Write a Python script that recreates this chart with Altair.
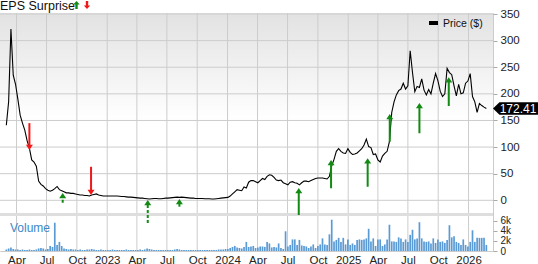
import altair as alt
import pandas as pd

# ---------------- data ----------------
WEEK_START = "2022-03-01"  # first weekly observation

PRICE = [
    141, 185, 322, 235, 218, 190, 160, 145, 132, 112,
    98, 76, 72, 64, 36, 30, 27, 22, 19, 17,
    19, 22, 26, 20, 18, 16, 14, 14, 13, 13,
    12, 11, 10, 10, 9, 9, 8, 10, 11, 12,
    10, 9, 8, 8, 8, 8, 8, 8, 8, 7.5,
    7, 7, 6.5, 6, 6, 5.5, 5, 4.5, 4, 4,
    3.5, 3, 2.5, 3, 3.5, 3.5, 3, 3, 3.5, 4,
    4, 4.5, 5, 5.5, 6, 5.5, 6, 5.5, 5, 4.5,
    4, 4, 3.5, 3.5, 3.5, 3.5, 3, 3, 3, 2.5,
    2.5, 3, 3.5, 4, 4.5, 5, 5.5, 8, 12, 16,
    20, 19, 18, 25, 23, 34, 37, 37, 35, 33,
    37, 41, 39, 45, 48, 47, 43, 38, 37, 38,
    33, 31, 29, 34, 35, 33, 32, 29, 33, 36,
    36, 35, 37, 39, 41, 42, 42, 42, 41, 40,
    45, 65, 77, 92, 97, 92, 89, 88, 97, 90,
    86, 87, 89, 93, 97, 104, 115, 101, 99, 86,
    87, 76, 72, 83, 88, 92, 110, 165, 185, 198,
    206, 209, 220, 209, 215, 281, 240, 204, 214, 212,
    228, 207, 198, 208, 200, 220, 238, 225, 205, 195,
    200, 248, 240, 236, 215, 196, 218, 200, 202, 220,
    224, 238, 195, 185, 165, 182, 178, 175, 172.41,
]

VOLUME_K = [
    0.3, 0.5, 0.7, 0.4, 0.3, 0.3, 0.2, 0.3, 0.2, 0.2,
    0.3, 0.2, 0.2, 0.3, 0.5, 0.6, 0.5, 0.3, 0.4, 1.0,
    0.8, 5.6, 1.2, 1.8, 1.0, 0.5, 0.4, 0.3, 0.4, 0.3,
    0.3, 0.2, 0.3, 0.2, 0.2, 0.3, 0.3, 0.4, 0.3, 0.2,
    0.2, 0.3, 0.2, 0.2, 0.2, 0.2, 0.3, 0.2, 0.2, 0.2,
    0.2, 0.2, 0.3, 0.2, 0.2, 0.2, 0.2, 0.2, 0.3, 0.2,
    0.3, 0.5, 0.4, 0.3, 0.2, 0.2, 0.2, 0.2, 0.2, 0.2,
    0.2, 0.2, 0.2, 0.3, 0.4, 0.3, 0.2, 0.2, 0.2, 0.2,
    0.2, 0.2, 0.2, 0.2, 0.2, 0.2, 0.2, 0.2, 0.2, 0.2,
    0.2, 0.2, 0.3, 0.3, 0.3, 0.4, 0.4, 0.6, 0.8, 1.0,
    0.7, 0.6, 0.5, 0.8, 1.8, 0.8, 0.9, 1.0, 0.6, 0.7,
    0.9, 0.9, 0.8, 1.8, 1.5, 0.7, 0.8, 0.7, 1.5, 0.6,
    0.4, 3.9, 0.9, 1.2, 2.3, 2.3, 1.2, 2.2, 1.1, 1.0,
    0.9, 0.6, 0.9, 1.3, 0.6, 1.0, 1.3, 2.5, 1.3, 1.2,
    3.3, 6.2, 1.9, 2.2, 2.6, 1.8, 2.6, 1.3, 2.3, 1.2,
    1.5, 1.2, 2.2, 2.3, 2.2, 2.3, 2.5, 4.4, 1.9, 2.5,
    1.0, 2.3, 2.3, 1.0, 1.3, 2.3, 5.2, 1.9, 1.9, 1.8,
    2.7, 2.5, 1.8, 2.3, 1.8, 3.2, 4.2, 2.3, 2.5, 5.7,
    2.5, 1.9, 1.8, 1.9, 1.5, 2.5, 1.6, 2.3, 1.8, 1.9,
    1.6, 2.2, 5.1, 2.7, 2.9, 1.8, 1.6, 1.2, 2.3, 1.2,
    0.9, 1.8, 4.1, 1.8, 2.6, 2.6, 2.6, 2.6, 1.2,
]

EARN_DATES = ["2022-05-10", "2022-08-19", "2022-11-13", "2023-05-04", "2023-08-08",
              "2024-08-04", "2024-11-10", "2025-03-01", "2025-05-07", "2025-08-05",
              "2025-11-02"]
EARN_DIR = ["down", "up", "down", "up", "up", "up", "up", "up", "up", "up", "up"]
EARN_STYLE = ["solid", "dashed", "solid", "dashed", "dashed", "solid", "solid",
              "solid", "solid", "solid", "solid"]
EARN_TIP = [94.5, 13.7, 10, 0.6, 2.4, 23, 75.7, 79, 162, 182.8, 231]
EARN_TAIL = [145, -4.5, 63, -42.6, -12, -27.6, 22.5, 25.6, 110, 126, 177]

LAST_PRICE = 172.41
PRICE_TICKS = [0, 50, 100, 150, 200, 250, 300, 350]
VOLUME_TICKS = [0, 2, 4, 6]
QUARTERS = ["2022-04-01", "2022-07-01", "2022-10-01", "2023-01-01", "2023-04-01",
            "2023-07-01", "2023-10-01", "2024-01-01", "2024-04-01", "2024-07-01",
            "2024-10-01", "2025-01-01", "2025-04-01", "2025-07-01", "2025-10-01",
            "2026-01-01"]

# ---------------- tables ----------------
n = min(len(PRICE), len(VOLUME_K))
dates = pd.date_range(WEEK_START, periods=n, freq="7D").strftime("%Y-%m-%d")
df = pd.DataFrame({"date": dates, "price": PRICE[:n], "vol": VOLUME_K[:n]})
earn = pd.DataFrame({"date": EARN_DATES, "dir": EARN_DIR, "style": EARN_STYLE,
                     "tip": EARN_TIP, "tail": EARN_TAIL})
up = earn[earn["dir"] == "up"]
down = earn[earn["dir"] == "down"]
last = pd.DataFrame({"price": [LAST_PRICE], "label": [f"{LAST_PRICE:.2f}"]})
one = pd.DataFrame({"a": [0]})
qdf = pd.DataFrame({"date": QUARTERS})
pgrid = pd.DataFrame({"price": PRICE_TICKS})

FONT = "Liberation Sans"
GREEN = "#138a13"
RED = "#f01818"
GRID = "#cccccc"

W, H = 493, 238
PRICE_RANGE = [187.3, 1.0]
VOL_RANGE = [238, 207.7]

xscale = alt.Scale(type="utc", domain=[alt.DateTime(year=2022, month=2, date=25, utc=True),
                                       alt.DateTime(year=2026, month=3, date=1, utc=True)])
xaxis = alt.Axis(
    values=[alt.DateTime(year=int(q[:4]), month=int(q[5:7]), date=1, utc=True) for q in QUARTERS],
    labelExpr="utcFormat(datum.value, '%m') == '01' ? utcFormat(datum.value, '%Y') : utcFormat(datum.value, '%b')",
    grid=False, ticks=False, domain=False, labelPadding=3,
    labelFontSize=11.5, labelFont=FONT, labelColor="#222", labelFlush=False, title=None,
)
X = alt.X("date:T", scale=xscale, axis=xaxis)

pscale = alt.Scale(domain=[0, 350], range=PRICE_RANGE, zero=False, nice=False)
paxis = alt.Axis(orient="right", values=PRICE_TICKS, grid=False, domain=False,
                 tickSize=4, tickColor="#aaaaaa", labelPadding=3, labelFontSize=11.5,
                 labelFont=FONT, labelColor="#222", labelFlush=False, labelOverlap=False,
                 title=None)


def PY(field):
    return alt.Y(field, type="quantitative", scale=pscale, axis=paxis)


gradient = alt.Gradient(gradient="linear",
                        stops=[alt.GradientStop(color="#e2e2e2", offset=0),
                               alt.GradientStop(color="#ffffff", offset=0.45),
                               alt.GradientStop(color="#ffffff", offset=1)],
                        x1=0, x2=0, y1=0, y2=1)
bg = alt.Chart(one).mark_rect(color=gradient).encode(
    x=alt.value(0), x2=alt.value(W), y=alt.value(0), y2=alt.value(H))

vgrid = alt.Chart(qdf).mark_rule(color=GRID, strokeWidth=1).encode(
    x=X, y=alt.value(0), y2=alt.value(H))
hgrid = alt.Chart(pgrid).mark_rule(color=GRID, strokeWidth=1).encode(
    y=PY("price"), x=alt.value(0), x2=alt.value(W))

line = alt.Chart(df).mark_line(color="#000000", strokeWidth=1.1).encode(
    x=X, y=PY("price"))

up_stem = alt.Chart(up).mark_rule(color=GREEN, strokeWidth=2, y2Offset=3).encode(
    x=X, y=PY("tail"), y2="tip:Q",
    strokeDash=alt.StrokeDash("style:N", scale=alt.Scale(domain=["solid", "dashed"],
                                                         range=[[1, 0], [3, 2]]), legend=None))
down_stem = alt.Chart(down).mark_rule(color=RED, strokeWidth=2, y2Offset=-3).encode(
    x=X, y=PY("tail"), y2="tip:Q")

up_head = alt.Chart(up).mark_point(shape="M0,0 L1,1.5 L-1,1.5 Z", filled=True, size=49,
                                   color=GREEN, opacity=1).encode(x=X, y=PY("tip"))
down_head = alt.Chart(down).mark_point(shape="M0,0 L1,-1.5 L-1,-1.5 Z", filled=True, size=49,
                                       color=RED, opacity=1).encode(x=X, y=PY("tip"))

tag_box = alt.Chart(last).mark_point(
    shape="M-1,0 L-0.72,-0.27 L1,-0.27 L1,0.27 L-0.72,0.27 Z",
    filled=True, size=2116, color="#000000", opacity=1).encode(
    x=alt.value(516), y=PY("price"))
tag_text = alt.Chart(last).mark_text(color="#ffffff", fontSize=12, font=FONT,
                                     align="center", baseline="middle").encode(
    x=alt.value(518), y=PY("price"), text="label:N")

price_group = alt.layer(hgrid, line, up_stem, down_stem, up_head, down_head, tag_box, tag_text)

vaxis = alt.Axis(orient="right", values=VOLUME_TICKS, grid=False, domain=False, tickSize=4,
                 tickColor="#aaaaaa", labelPadding=3, labelFontSize=10, labelFont=FONT,
                 labelColor="#222", labelFlush=False, labelOverlap=False, title=None,
                 labelExpr="datum.value == 0 ? '0' : datum.value + 'k'")
vol = alt.Chart(df).mark_bar(color="#5b9bd5", width=1.7).encode(
    x=X, y=alt.Y("vol:Q", scale=alt.Scale(domain=[0, 6], range=VOL_RANGE, nice=False), axis=vaxis))

band = alt.Chart(one).mark_rect(color="#dedede").encode(
    x=alt.value(0), x2=alt.value(W), y=alt.value(200), y2=alt.value(203))

title = alt.Chart(one).mark_text(text="EPS Surprise", align="left", baseline="alphabetic",
                                 fontSize=12.5, font=FONT, color="#111111").encode(
    x=alt.value(0), y=alt.value(-3))
t_up = alt.Chart(one).mark_point(
    shape="M0,-1 L0.8,-0.1 L0.3,-0.1 L0.3,1 L-0.3,1 L-0.3,-0.1 L-0.8,-0.1 Z",
    filled=True, size=64, color=GREEN, opacity=1).encode(x=alt.value(76.5), y=alt.value(-8))
t_down = alt.Chart(one).mark_point(
    shape="M0,1 L0.8,0.1 L0.3,0.1 L0.3,-1 L-0.3,-1 L-0.3,0.1 L-0.8,0.1 Z",
    filled=True, size=64, color=RED, opacity=1).encode(x=alt.value(87), y=alt.value(-8))

leg_box = alt.Chart(one).mark_rect(color="#000000").encode(
    x=alt.value(429), x2=alt.value(438), y=alt.value(8), y2=alt.value(12))
leg_text = alt.Chart(one).mark_text(text="Price ($)", align="left", baseline="alphabetic",
                                    fontSize=10.5, font=FONT, color="#111111").encode(
    x=alt.value(443), y=alt.value(14))

vol_label = alt.Chart(one).mark_text(text="Volume", align="left", baseline="alphabetic",
                                     fontSize=12, font=FONT, color="#3d88c9").encode(
    x=alt.value(10), y=alt.value(219))

chart = alt.layer(
    bg, vgrid, band, vol, price_group, title, t_up, t_down, leg_box, leg_text, vol_label
).resolve_scale(y="independent").properties(
    width=W, height=H,
    autosize=alt.AutoSizeParams(type="none"),
    padding={"left": 0, "top": 13, "right": 45, "bottom": 13},
    background="#ffffff",
).configure_view(stroke=GRID)

chart.save("out.html", embed_options={"renderer": "svg", "actions": False})
